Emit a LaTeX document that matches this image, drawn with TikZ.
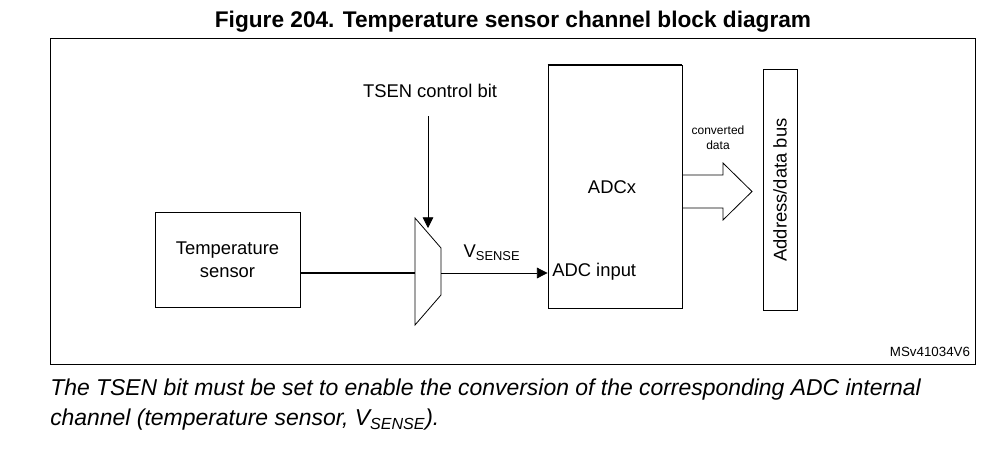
\documentclass[tikz,border=0pt]{standalone}
\usepackage{fontspec}
\setmainfont{Liberation Sans}
\usetikzlibrary{arrows.meta}
\begin{document}
\begin{tikzpicture}[x=0.75pt,y=-0.75pt,
  lbl/.style={inner sep=0pt,font=\fontsize{13.8}{16}\selectfont},
  box/.style={draw,line width=0.6pt},
  arr/.style={-{Triangle[length=8pt,width=8pt]},line width=0.6pt}]
\useasboundingbox (0,0) rectangle (1001,458);
\node[font=\bfseries\fontsize{17}{20}\selectfont] (title) at (513,22) {Figure 204. Temperature sensor channel block diagram};
\draw[line width=0.5pt] (50,38) rectangle (975,364);
\node[box,minimum width=108.75pt,minimum height=71.25pt,align=center,font=\fontsize{13.8}{17}\selectfont] (ts) at (227.5,259.5) {Temperature\\sensor};
\draw[line width=0.6pt] (415,218) -- (441,248) -- (441,295) -- (415,325) -- cycle;
\coordinate (muxin) at (415,273);
\coordinate (muxout) at (441,273);
\coordinate (muxtop) at (428,228);
\draw[line width=1.2pt] (ts.east |- muxin) -- (muxin);
\node[lbl] (tsen) at (430,91) {TSEN control bit};
\coordinate (tsenstart) at (428,116);
\draw[arr] (tsenstart) -- (muxtop);
\node[box,minimum width=100.5pt,minimum height=182.25pt] (adc) at (615,186.5) {};
\draw[line width=1.5pt] (adc.north west) -- (adc.north east);
\node[lbl] (adcx) at (612,187) {ADCx};
\node[lbl,anchor=west] (adcin) at (552,272) {ADC input};
\draw[arr] (muxout) -- (adc.west |- muxout);
\node[lbl] (vs) at (492,253) {V\textsubscript{SENSE}};
\node[box,minimum width=25.5pt,minimum height=180.75pt] (bus) at (780,189.5) {};
\node[lbl,rotate=90] (bustext) at (780,190) {Address/data bus};
\draw[line width=0.6pt] (683,175) -- (723,175) -- (723,163) -- (752,191.5) -- (723,220) -- (723,208) -- (683,208);
\node[align=center,inner sep=0pt,font=\fontsize{9}{11}\selectfont] (cd) at (718,138) {converted\\data};
\node[inner sep=0pt,font=\fontsize{10}{12}\selectfont] (ms) at (930,352) {MSv41034V6};
\node[anchor=west,inner sep=0pt,font=\itshape\fontsize{17.2}{22.5}\selectfont] (cap1) at (50,390) {The TSEN bit must be set to enable the conversion of the corresponding ADC internal};
\node[anchor=west,inner sep=0pt,font=\itshape\fontsize{17.2}{22.5}\selectfont] (cap2) at (50,420) {channel (temperature sensor, V\textsubscript{SENSE}).};
\end{tikzpicture}
\end{document}
